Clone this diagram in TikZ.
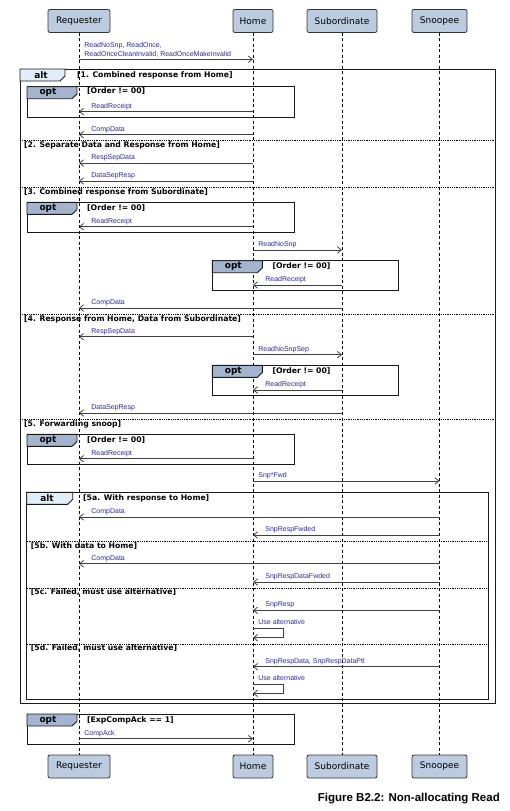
\documentclass[tikz,border=0pt]{standalone}
\usepackage{fontspec}
\setmainfont{DejaVu Sans}
\newfontfamily\lblfont{Liberation Sans}
\usepackage{tikz}
\usetikzlibrary{arrows.meta}
\definecolor{boxfill}{RGB}{188,204,224}
\definecolor{opttab}{RGB}{163,181,206}
\definecolor{alttab}{RGB}{226,237,250}
\definecolor{msgblue}{RGB}{40,40,160}
\tikzset{
  actor/.style={draw=black!80,fill=boxfill,rounded corners=2pt,line width=0.8pt,
    minimum height=23pt,inner sep=2pt,font=\fontsize{9}{10}\selectfont},
  life/.style={dashed,dash pattern=on 3pt off 2.5pt,line width=0.7pt},
  frame/.style={draw=black!90,line width=0.9pt},
  tabtxt/.style={font=\bfseries\fontsize{9}{10}\selectfont,inner sep=0pt},
  guard/.style={font=\bfseries\fontsize{7.7}{9}\selectfont,anchor=west,inner sep=0pt},
  sepline/.style={densely dotted,line width=0.8pt},
  msg/.style={draw=black!75,line width=0.8pt,-{Straight Barb[length=4pt,width=6.5pt]}},
  lblL/.style={pos=1,anchor=base west,xshift=12pt,yshift=3.5pt,inner sep=0pt,
    text=msgblue,font=\lblfont\fontsize{7}{9}\selectfont},
  lblR/.style={pos=0,anchor=base west,xshift=5pt,yshift=3.5pt,inner sep=0pt,
    text=msgblue,font=\lblfont\fontsize{7}{9}\selectfont}
}
\begin{document}
\begin{tikzpicture}[x=1pt,y=-1pt]
	\useasboundingbox (0,0) rectangle (509,811);
	\node[actor,minimum width=62pt] (rqT) at (79,21) {Requester};
	\node[actor,minimum width=40pt] (hmT) at (253,21) {Home};
	\node[actor,minimum width=70pt] (sbT) at (342,21) {Subordinate};
	\node[actor,minimum width=55pt] (snT) at (439.5,21) {Snoopee};
	\node[actor,minimum width=62pt] (rqB) at (79,766.5) {Requester};
	\node[actor,minimum width=40pt] (hmB) at (253,766.5) {Home};
	\node[actor,minimum width=70pt] (sbB) at (342,766.5) {Subordinate};
	\node[actor,minimum width=55pt] (snB) at (439.5,766.5) {Snoopee};
	\draw[life] (rqT) -- (rqB);
	\draw[life] (hmT) -- (hmB);
	\draw[life] (sbT) -- (sbB);
	\draw[life] (snT) -- (snB);
	\draw[msg] (rqT |- 0,59.3) -- node[lblR,anchor=south west,yshift=-1.5pt,align=left] (m1)
		{ReadNoSnp, ReadOnce,\\ReadOnceCleanInvalid, ReadOnceMakeInvalid} (hmT |- 0,59.3);
	\draw[frame] (20,69) rectangle (495,703.3);
	\draw[frame,fill=alttab] (20,69) -- (65,69) -- (65,76) -- (60,81) -- (20,81) -- cycle;
	\node[tabtxt] (alt1) at (41,75) {alt};
	\node[guard] (g1) at (77,75) {[1. Combined response from Home]};
	\draw[frame] (27,86.7) rectangle (294,117.3);
	\draw[frame,fill=opttab] (27,86.7) -- (77,86.7) -- (77,94) -- (72,98.7) -- (27,98.7) -- cycle;
	\node[tabtxt] (o1) at (48,92.7) {opt};
	\node[guard] (og1) at (87,91) {[Order != 00]};
	\draw[msg] (hmT |- 0,111.7) -- node[lblL] (m2) {ReadReceipt} (rqT |- 0,111.7);
	\draw[msg] (hmT |- 0,134.7) -- node[lblL] (m3) {CompData} (rqT |- 0,134.7);
	\draw[sepline] (20,140) -- (495,140);
	\node[guard] (g2) at (24,145) {[2. Separate Data and Response from Home]};
	\draw[msg] (hmT |- 0,163) -- node[lblL] (m4) {RespSepData} (rqT |- 0,163);
	\draw[msg] (hmT |- 0,181) -- node[lblL] (m5) {DataSepResp} (rqT |- 0,181);
	\draw[sepline] (20,187.3) -- (495,187.3);
	\node[guard] (g3) at (24,192.3) {[3. Combined response from Subordinate]};
	\draw[frame] (27,202.3) rectangle (294,232.3);
	\draw[frame,fill=opttab] (27,202.3) -- (77,202.3) -- (77,209.6) -- (72,214.3) -- (27,214.3) -- cycle;
	\node[tabtxt] (o2) at (48,208.3) {opt};
	\node[guard] (og2) at (87,208) {[Order != 00]};
	\draw[msg] (hmT |- 0,226.7) -- node[lblL] (m6) {ReadReceipt} (rqT |- 0,226.7);
	\draw[msg] (hmT |- 0,250) -- node[lblR] (m7) {ReadNoSnp} (sbT |- 0,250);
	\draw[frame] (212.3,260.7) rectangle (398.3,290.7);
	\draw[frame,fill=opttab] (212.3,260.7) -- (262.3,260.7) -- (262.3,268) -- (257.3,272.7) -- (212.3,272.7) -- cycle;
	\node[tabtxt] (o3) at (233.3,266.7) {opt};
	\node[guard] (og3) at (272.3,266) {[Order != 00]};
	\draw[msg] (sbT |- 0,285) -- node[lblL] (m8) {ReadReceipt} (hmT |- 0,285);
	\draw[msg] (sbT |- 0,308) -- node[lblL] (m9) {CompData} (rqT |- 0,308);
	\draw[sepline] (20,314.5) -- (495,314.5);
	\node[guard] (g4) at (24,319.3) {[4. Response from Home, Data from Subordinate]};
	\draw[msg] (hmT |- 0,336.7) -- node[lblL] (m10) {RespSepData} (rqT |- 0,336.7);
	\draw[msg] (hmT |- 0,354.7) -- node[lblR] (m11) {ReadNoSnpSep} (sbT |- 0,354.7);
	\draw[frame] (212.3,365.3) rectangle (398.3,395.7);
	\draw[frame,fill=opttab] (212.3,365.3) -- (262.3,365.3) -- (262.3,372.6) -- (257.3,377.3) -- (212.3,377.3) -- cycle;
	\node[tabtxt] (o4) at (233.3,371.3) {opt};
	\node[guard] (og4) at (272.3,371.3) {[Order != 00]};
	\draw[msg] (sbT |- 0,390) -- node[lblL] (m12) {ReadReceipt} (hmT |- 0,390);
	\draw[msg] (sbT |- 0,413) -- node[lblL] (m13) {DataSepResp} (rqT |- 0,413);
	\draw[sepline] (20,419.3) -- (495,419.3);
	\node[guard] (g5) at (24,424.3) {[5. Forwarding snoop]};
	\draw[frame] (27,434.3) rectangle (294,464.3);
	\draw[frame,fill=opttab] (27,434.3) -- (77,434.3) -- (77,441.6) -- (72,446.3) -- (27,446.3) -- cycle;
	\node[tabtxt] (o5) at (48,440.3) {opt};
	\node[guard] (og5) at (87,440) {[Order != 00]};
	\draw[msg] (hmT |- 0,458.7) -- node[lblL] (m14) {ReadReceipt} (rqT |- 0,458.7);
	\draw[msg] (hmT |- 0,481) -- node[lblR] (m15) {Snp*Fwd} (snT |- 0,481);
	\draw[frame] (26.7,492.3) rectangle (488.3,699.3);
	\draw[frame,fill=alttab] (26.7,492.3) -- (72.7,492.3) -- (72.7,499.3) -- (67.7,504.3) -- (26.7,504.3) -- cycle;
	\node[tabtxt] (alt2) at (47,498.3) {alt};
	\node[guard] (g5a) at (83,498.3) {[5a. With response to Home]};
	\draw[msg] (snT |- 0,517) -- node[lblL] (m16) {CompData} (rqT |- 0,517);
	\draw[msg] (snT |- 0,535) -- node[lblL] (m17) {SnpRespFwded} (hmT |- 0,535);
	\draw[sepline] (26.7,541) -- (488.3,541);
	\node[guard] (g5b) at (30.7,546) {[5b. With data to Home]};
	\draw[msg] (snT |- 0,563.7) -- node[lblL] (m18) {CompData} (rqT |- 0,563.7);
	\draw[msg] (snT |- 0,582) -- node[lblL] (m19) {SnpRespDataFwded} (hmT |- 0,582);
	\draw[sepline] (26.7,588) -- (488.3,588);
	\node[guard] (g5c) at (30.7,592.3) {[5c. Failed, must use alternative]};
	\draw[msg] (snT |- 0,610.3) -- node[lblL] (m20) {SnpResp} (hmT |- 0,610.3);
	\draw[msg] (hmT |- 0,628.3) -| node[lblR] (m21) {Use alternative} (283,637.7) -- (hmT |- 0,637.7);
	\draw[sepline] (26.7,644) -- (488.3,644);
	\node[guard] (g5d) at (30.7,648.3) {[5d. Failed, must use alternative]};
	\draw[msg] (snT |- 0,666.7) -- node[lblL] (m22) {SnpRespData, SnpRespDataPtl} (hmT |- 0,666.7);
	\draw[msg] (hmT |- 0,684.3) -| node[lblR] (m23) {Use alternative} (283,693.3) -- (hmT |- 0,693.3);
	\draw[frame] (27,714) rectangle (294,744.3);
	\draw[frame,fill=opttab] (27,714) -- (77,714) -- (77,721.3) -- (72,726) -- (27,726) -- cycle;
	\node[tabtxt] (o6) at (48,720) {opt};
	\node[guard] (og6) at (87,720) {[ExpCompAck == 1]};
	\draw[msg] (rqT |- 0,738.7) -- node[lblR] (m24) {CompAck} (hmT |- 0,738.7);
	\node[anchor=east,inner sep=0pt,font=\lblfont\bfseries\fontsize{11.5}{13}\selectfont] (cap) at (500,799)
		{Figure B2.2: Non-allocating Read};
\end{tikzpicture}
\end{document}
